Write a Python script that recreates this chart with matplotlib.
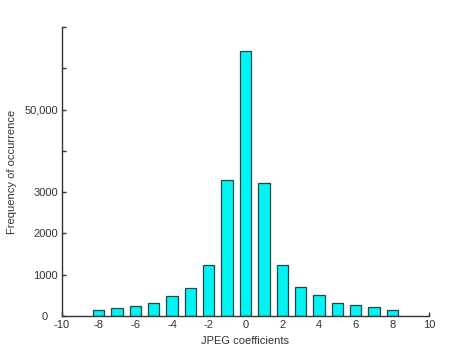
import numpy as np
import matplotlib.pyplot as plt

plt.rcParams['font.family'] = ['Liberation Sans', 'DejaVu Sans']

coeffs = [-8, -7, -6, -5, -4, -3, -2, -1, 0, 1, 2, 3, 4, 5, 6, 7, 8]
counts = [137, 186, 243, 307, 485, 679, 1245, 3298, 114900,
          3217, 1245, 711, 509, 307, 259, 226, 137]

ytick_vals = [0, 1000, 2000, 3000, 4000, 50000, 96000, 142000]
ytick_labels = ['0   ', '1000', '2000', '3000', '', '50,000', '', '']
xtick_vals = [-10, -8, -6, -4, -2, 0, 2, 4, 6, 8, 10]


# broken-style axis: linear up to 4000, compressed above
def fwd(v):
    v = np.asarray(v, dtype=float)
    return np.where(v <= 4000, v / 1000.0, 4 + (v - 4000) / 46000.0)


def inv(p):
    p = np.asarray(p, dtype=float)
    return np.where(p <= 4, p * 1000.0, 4000 + (p - 4) * 46000.0)


fig = plt.figure(figsize=(4.74, 3.55), dpi=100)
ax = fig.add_axes([62 / 474, 1 - 316 / 355, (429 - 62) / 474, (316 - 27) / 355])
ax.set_yscale('function', functions=(fwd, inv))
ax.set_axisbelow(True)

ax.bar(coeffs, counts, width=0.62, color='#00f4f4', edgecolor='#1e4848',
       linewidth=0.9, zorder=3)

ax.set_xlim(-10, 10)
ax.set_ylim(0, 142000)
ax.set_xticks(xtick_vals)
ax.set_xticklabels([str(v) for v in xtick_vals])
ax.set_yticks(ytick_vals)
ax.set_yticklabels(ytick_labels)
ax.yaxis.set_minor_locator(plt.NullLocator())

for s in ['top', 'right']:
    ax.spines[s].set_visible(False)
for s in ['left', 'bottom']:
    ax.spines[s].set_color('#333333')
    ax.spines[s].set_linewidth(1.0)
    ax.spines[s].set_zorder(4)
ax.tick_params(direction='in', length=3, width=1.0, color='#333333',
               labelsize=8, labelcolor='#333333', pad=3)

ax.set_xlabel('JPEG coefficients', fontsize=8, color='#333333', labelpad=4)
ax.set_ylabel('Frequency of occurrence', fontsize=8, color='#333333', labelpad=5)

fig.savefig('out.png', dpi=100)
